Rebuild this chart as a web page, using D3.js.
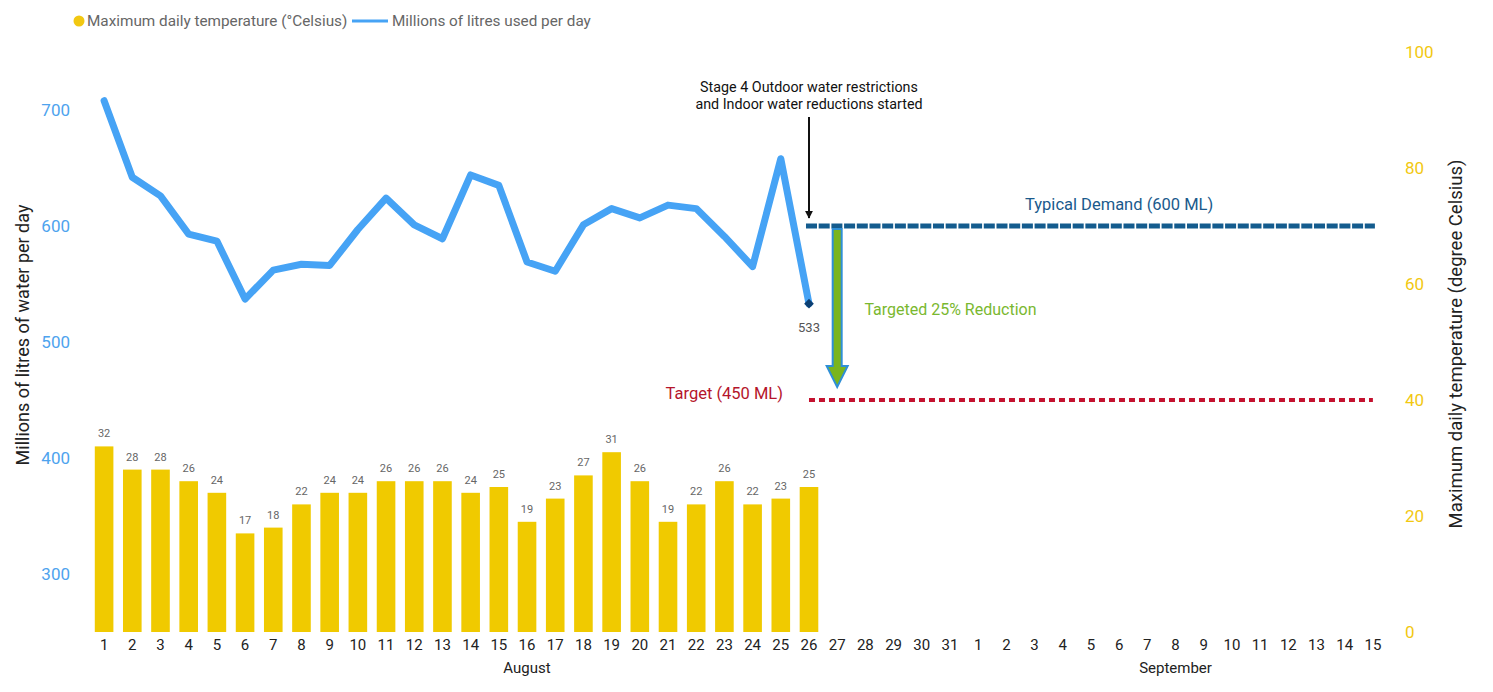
<!DOCTYPE html>
<html>
<head>
<meta charset="utf-8">
<script src="https://cdn.jsdelivr.net/npm/d3@7"></script>
<style>
  body { margin: 0; background: #fff; }
  svg { display: block; font-family: Roboto, "DejaVu Sans", sans-serif; }
</style>
</head>
<body>
<div id="chart"></div>
<script>
// tick labels
const augustDays = ["1","2","3","4","5","6","7","8","9","10","11","12","13","14","15","16","17","18","19","20","21","22","23","24","25","26","27","28","29","30","31"];
const septemberDays = ["1","2","3","4","5","6","7","8","9","10","11","12","13","14","15"];
const waterTicks = [300, 400, 500, 600, 700];
const tempTicks = [0, 20, 40, 60, 80, 100];

// series (1–26 August)
const maxTemperature = [32, 28, 28, 26, 24, 17, 18, 22, 24, 24, 26, 26, 26, 24, 25, 19, 23, 27, 31, 26, 19, 22, 26, 22, 23, 25];
const litresPerDay = [708, 642, 626, 593, 587, 537, 562, 567, 566, 597, 624, 601, 589, 644, 635, 569, 561, 601, 615, 607, 618, 615, 591, 565, 658, 533];

const typicalDemand = 600;
const targetDemand = 450;

const width = 1493, height = 692;
const margin = {top: 52, bottom: 60, left: 90, right: 106};

const keys = augustDays.map(d => "Aug-" + d).concat(septemberDays.map(d => "Sep-" + d));
const augKeys = keys.slice(0, maxTemperature.length);

const svg = d3.select("#chart").append("svg")
    .attr("width", width)
    .attr("height", height);

const xScale = d3.scaleBand()
    .domain(keys)
    .range([margin.left, width - margin.right])
    .paddingInner(0.34)
    .paddingOuter(0.17);

const yWater = d3.scaleLinear()
    .domain([250, 750])
    .range([height - margin.bottom, margin.top]);

const yTemp = d3.scaleLinear()
    .domain([0, 100])
    .range([height - margin.bottom, margin.top]);

const cx = k => xScale(k) + xScale.bandwidth() / 2;

// legend
const legend = svg.append("g").attr("font-size", 15.3).attr("fill", "#666");
legend.append("circle").attr("cx", 79).attr("cy", 21).attr("r", 5.5).attr("fill", "#f2c811");
legend.append("text").attr("x", 87).attr("y", 26).text("Maximum daily temperature (\u00B0Celsius)");
legend.append("line").attr("x1", 352).attr("x2", 388).attr("y1", 21).attr("y2", 21)
    .attr("stroke", "#46a3f5").attr("stroke-width", 3);
legend.append("text").attr("x", 392).attr("y", 26).text("Millions of litres used per day");

// axes
const leftAxis = svg.append("g")
    .attr("transform", `translate(${margin.left - 17}, 0)`)
    .call(d3.axisLeft(yWater).tickValues(waterTicks).tickSize(0));
leftAxis.select(".domain").remove();
leftAxis.selectAll("text").attr("font-size", 17).attr("fill", "#4ea3ee").attr("font-family", "Roboto");

const rightAxis = svg.append("g")
    .attr("transform", `translate(${width - margin.right + 15}, 0)`)
    .call(d3.axisRight(yTemp).tickValues(tempTicks).tickSize(0));
rightAxis.select(".domain").remove();
rightAxis.selectAll("text").attr("font-size", 17).attr("fill", "#f2c811").attr("font-family", "Roboto");

const xAxis = svg.append("g")
    .attr("transform", `translate(0, ${height - margin.bottom + 4})`)
    .call(d3.axisBottom(xScale).tickSize(0).tickFormat(k => k.split("-")[1]));
xAxis.select(".domain").remove();
xAxis.selectAll("text").attr("font-size", 15).attr("fill", "#222").attr("font-family", "Roboto");

const monthLabel = (list, name) => {
    const a = cx(list[0]), b = cx(list[list.length - 1]);
    svg.append("text")
        .attr("x", (a + b) / 2)
        .attr("y", height - 19)
        .attr("text-anchor", "middle")
        .attr("font-size", 15)
        .attr("fill", "#222")
        .text(name);
};
monthLabel(keys.slice(0, 31), "August");
monthLabel(keys.slice(31), "September");

svg.append("text")
    .attr("transform", `translate(29, 335) rotate(-90)`)
    .attr("text-anchor", "middle")
    .attr("font-size", 18)
    .attr("fill", "#222")
    .text("Millions of litres of water per day");

svg.append("text")
    .attr("transform", `translate(1462, 344) rotate(-90)`)
    .attr("text-anchor", "middle")
    .attr("font-size", 18.5)
    .attr("fill", "#222")
    .text("Maximum daily temperature (degree Celsius)");

// bars
svg.append("g").selectAll("rect")
    .data(maxTemperature)
    .join("rect")
    .attr("x", (d, i) => xScale(augKeys[i]))
    .attr("y", d => yTemp(d))
    .attr("width", xScale.bandwidth())
    .attr("height", d => yTemp(0) - yTemp(d))
    .attr("fill", "#f0ca00");

svg.append("g").selectAll("text")
    .data(maxTemperature)
    .join("text")
    .attr("x", (d, i) => cx(augKeys[i]))
    .attr("y", d => yTemp(d) - 9)
    .attr("text-anchor", "middle")
    .attr("font-size", 11)
    .attr("fill", "#666")
    .text(d => d);

// usage line
const line = d3.line()
    .x((d, i) => cx(augKeys[i]))
    .y(d => yWater(d));

svg.append("path")
    .datum(litresPerDay)
    .attr("fill", "none")
    .attr("stroke", "#46a3f5")
    .attr("stroke-width", 7)
    .attr("stroke-linejoin", "round")
    .attr("stroke-linecap", "round")
    .attr("d", line);

const lastKey = augKeys[augKeys.length - 1];
const lastVal = litresPerDay[litresPerDay.length - 1];
svg.append("path")
    .attr("d", d3.symbol(d3.symbolDiamond2, 60)())
    .attr("transform", `translate(${cx(lastKey)}, ${yWater(lastVal)})`)
    .attr("fill", "#0b3f73");
svg.append("text")
    .attr("x", cx(lastKey))
    .attr("y", yWater(lastVal) + 28)
    .attr("text-anchor", "middle")
    .attr("font-size", 13)
    .attr("fill", "#555")
    .text(lastVal);

// typical demand line
const endKey = keys[keys.length - 1];
svg.append("line")
    .attr("x1", cx(lastKey) - 3)
    .attr("x2", cx(endKey) + 2)
    .attr("y1", yWater(typicalDemand))
    .attr("y2", yWater(typicalDemand))
    .attr("stroke", "#145c8e")
    .attr("stroke-width", 5)
    .attr("stroke-dasharray", "11 1.7");

svg.append("text")
    .attr("x", cx("Sep-6"))
    .attr("y", yWater(typicalDemand) - 16)
    .attr("text-anchor", "middle")
    .attr("font-size", 16.5)
    .attr("fill", "#1a5a8c")
    .text("Typical Demand (600 ML)");

// target line
svg.append("line")
    .attr("x1", cx(lastKey))
    .attr("x2", cx(endKey))
    .attr("y1", yWater(targetDemand))
    .attr("y2", yWater(targetDemand))
    .attr("stroke", "#c4122f")
    .attr("stroke-width", 4)
    .attr("stroke-dasharray", "6 4");

svg.append("text")
    .attr("x", cx(lastKey) - 26)
    .attr("y", yWater(targetDemand) - 1)
    .attr("text-anchor", "end")
    .attr("font-size", 16.5)
    .attr("fill", "#b5152b")
    .text("Target (450 ML)");

// reduction arrow
const ax = cx("Aug-27");
const aTop = yWater(typicalDemand) + 3;
const aTip = yWater(targetDemand) - 13;
const headLen = 21;
svg.append("path")
    .attr("d", `M${ax - 4.5},${aTop} L${ax + 4.5},${aTop} L${ax + 4.5},${aTip - headLen} L${ax + 10.5},${aTip - headLen} L${ax},${aTip} L${ax - 10.5},${aTip - headLen} L${ax - 4.5},${aTip - headLen} Z`)
    .attr("fill", "#7ab51d")
    .attr("stroke", "#2f8fd6")
    .attr("stroke-width", 2);

svg.append("text")
    .attr("x", cx("Aug-28") - 1)
    .attr("y", 315)
    .attr("font-size", 16)
    .attr("fill", "#7ab82f")
    .text("Targeted 25% Reduction");

// stage 4 annotation
const sx = cx(lastKey);
svg.append("defs").append("marker")
    .attr("id", "arrowhead")
    .attr("viewBox", "0 0 10 10")
    .attr("refX", 9).attr("refY", 5)
    .attr("markerWidth", 4).attr("markerHeight", 4)
    .attr("orient", "auto")
    .append("path").attr("d", "M0,0 L10,5 L0,10 Z").attr("fill", "#111");

svg.append("line")
    .attr("x1", sx).attr("x2", sx)
    .attr("y1", 117).attr("y2", 218)
    .attr("stroke", "#111")
    .attr("stroke-width", 2)
    .attr("marker-end", "url(#arrowhead)");

const note = svg.append("text")
    .attr("text-anchor", "middle")
    .attr("font-size", 14.3)
    .attr("fill", "#111");
note.append("tspan").attr("x", sx).attr("y", 92).text("Stage 4 Outdoor water restrictions");
note.append("tspan").attr("x", sx).attr("y", 109).text("and Indoor water reductions started");
</script>
</body>
</html>
